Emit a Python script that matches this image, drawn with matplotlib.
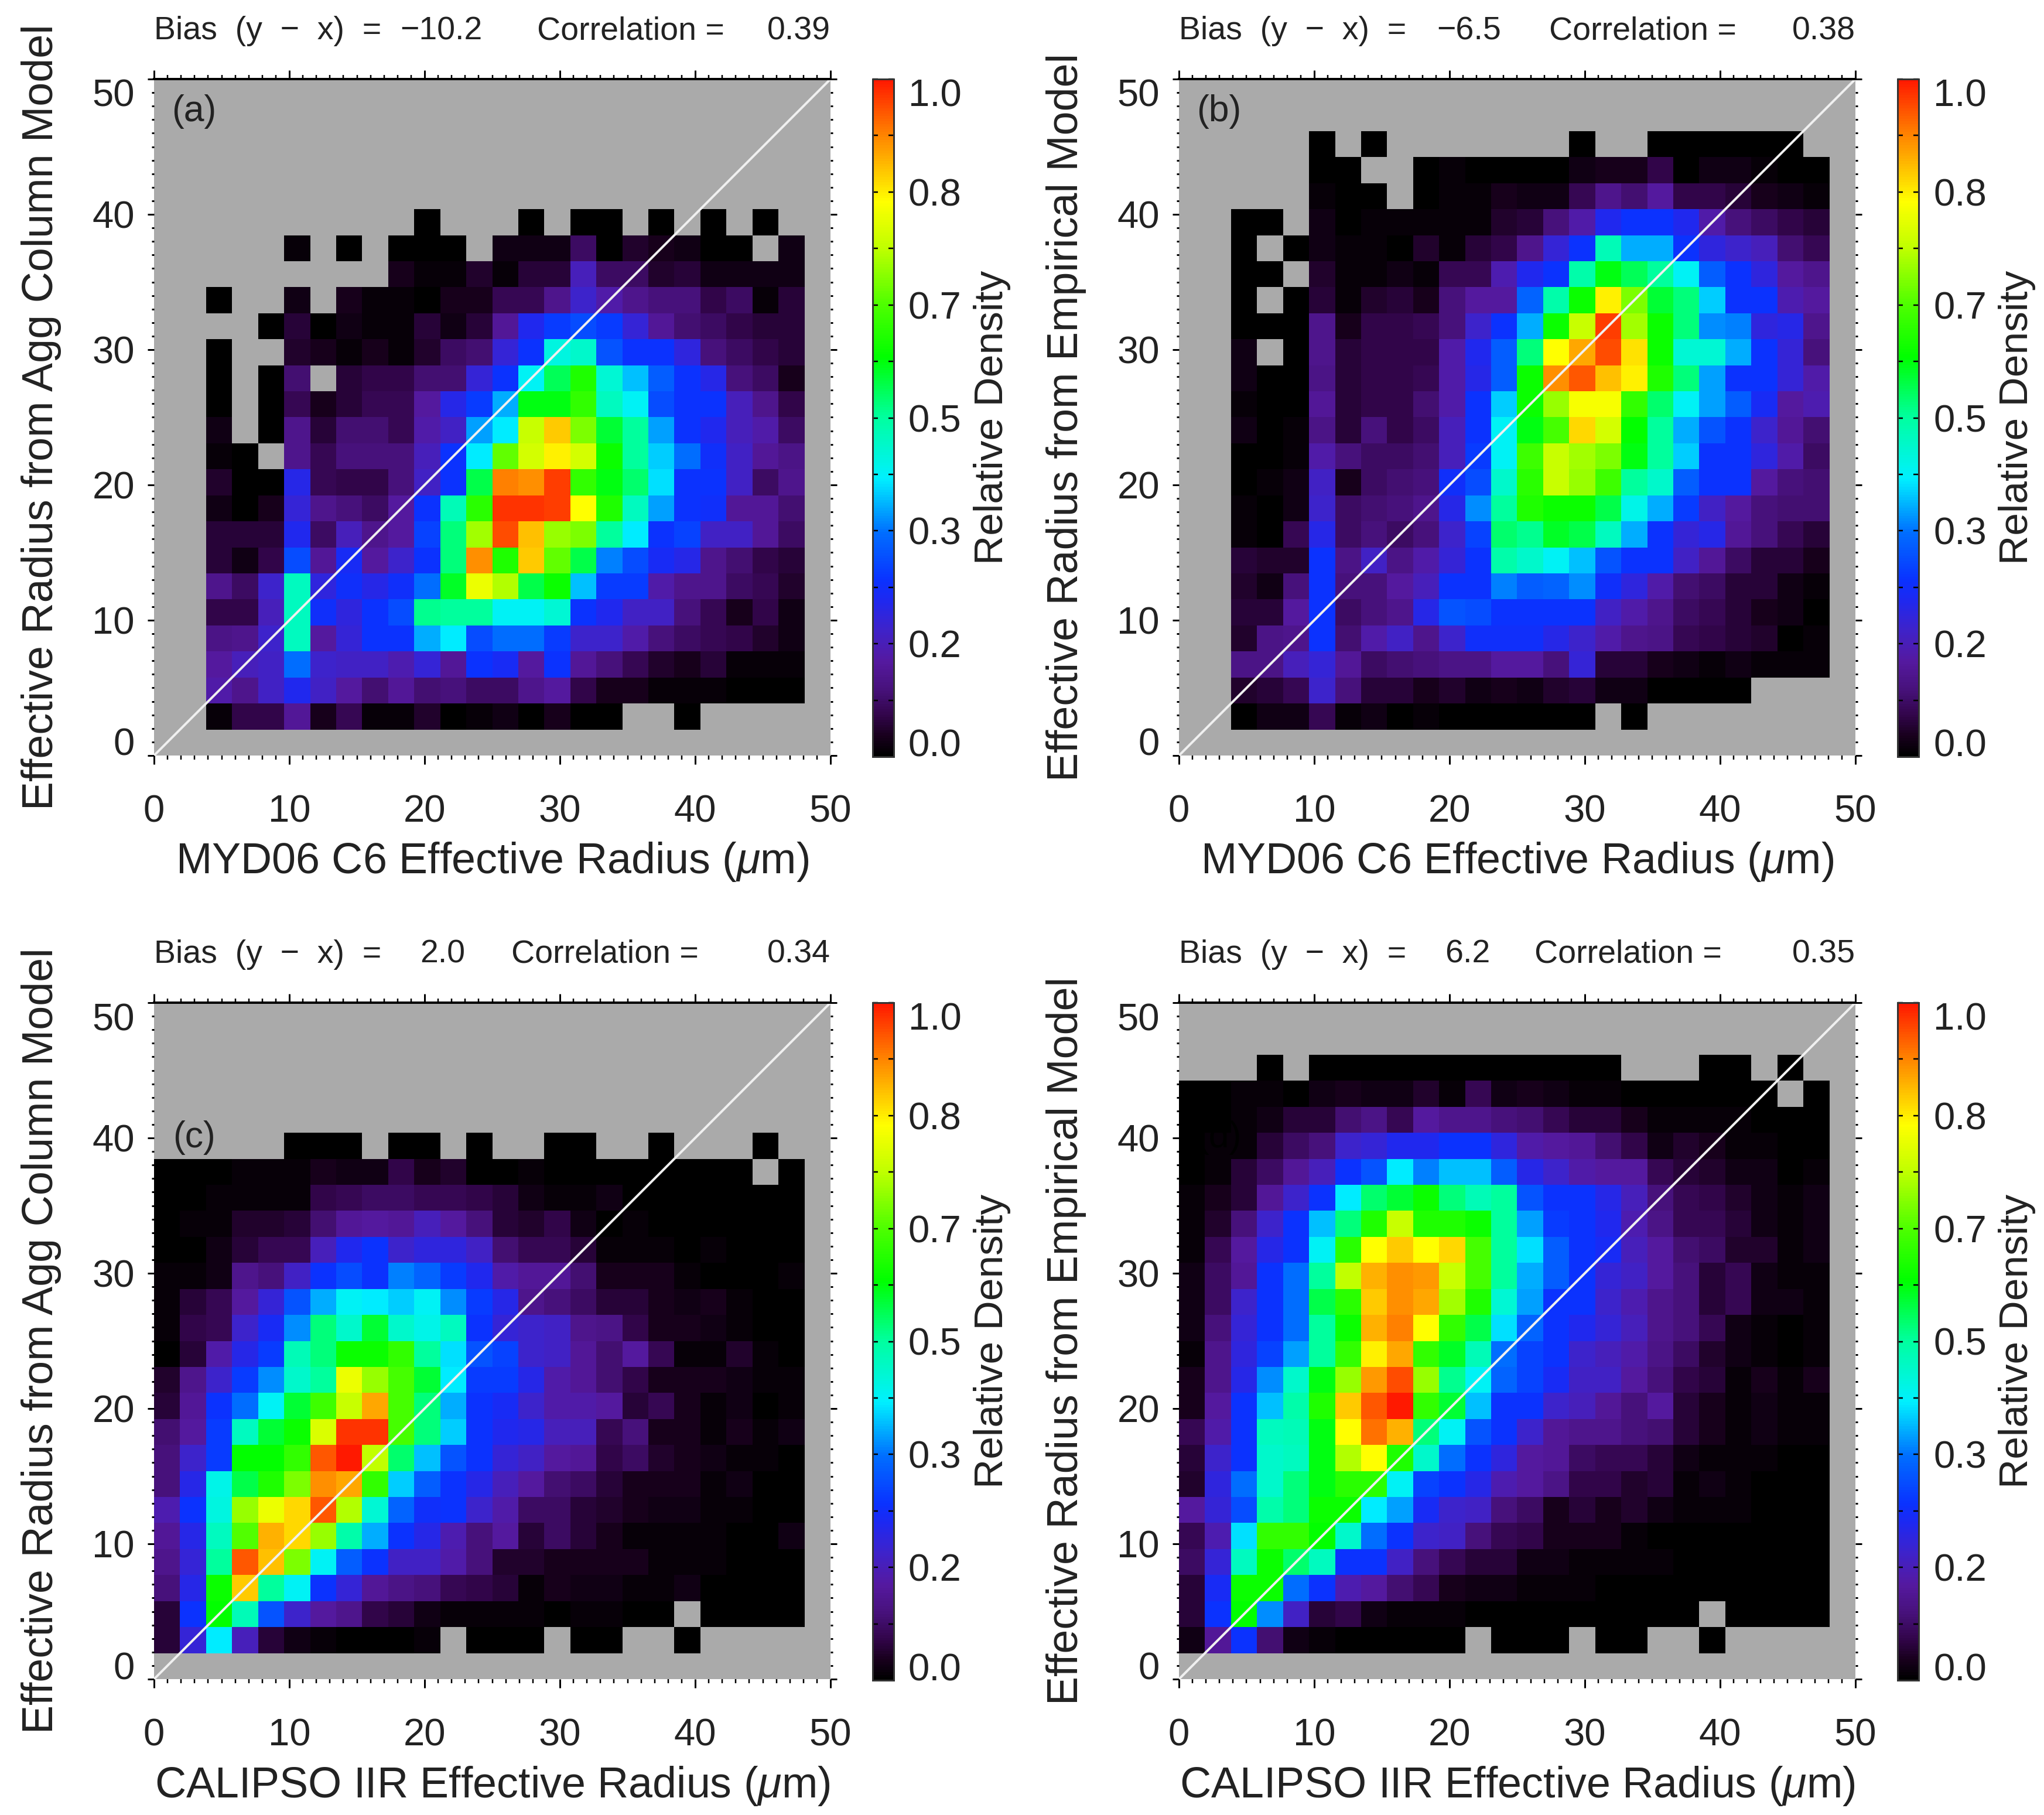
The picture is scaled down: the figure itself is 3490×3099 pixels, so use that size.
import numpy as np
import matplotlib
matplotlib.use('Agg')
import matplotlib.pyplot as plt
from matplotlib.colors import LinearSegmentedColormap

n = np.nan
W = 3491
H = 3099
plt.rcParams['font.family'] = ['Liberation Sans', 'DejaVu Sans']
plt.rcParams['mathtext.fontset'] = 'custom'
plt.rcParams['mathtext.it'] = 'Liberation Sans:italic'
plt.rcParams['mathtext.rm'] = 'Liberation Sans'

# densities in percent, rows from the top one down, columns from x=0
top_a = 20
vals_a = [
    [n,n,n,n,n,n,n,n,n,n,0,n,n,n,0,n,0,0,n,0,n,0,n,0,n],
    [n,n,n,n,n,1,n,0,n,0,0,0,n,2,2,2,8,0,4,3,2,0,0,n,2],
    [n,n,n,n,n,n,n,n,n,3,1,1,4,1,5,5,17,8,8,4,5,2,2,2,2],
    [n,n,0,n,n,2,n,3,1,1,0,3,3,7,7,12,19,15,12,10,10,6,8,1,5],
    [n,n,n,n,0,5,0,2,1,1,5,2,5,13,23,27,29,27,20,13,9,8,6,5,5],
    [n,n,0,n,n,4,3,1,3,1,4,8,9,20,26,44,46,30,26,26,21,10,8,6,5],
    [n,n,0,n,0,9,n,5,6,6,9,9,20,26,42,54,62,45,38,31,26,22,10,8,3],
    [n,n,0,n,0,7,3,5,7,7,14,22,27,37,58,58,64,47,42,29,26,26,17,12,6],
    [n,n,2,n,0,12,5,9,9,7,15,18,36,41,76,86,70,56,50,36,26,23,17,15,8],
    [n,n,1,0,n,12,7,10,10,10,17,26,41,68,77,83,77,60,50,39,33,25,18,13,11],
    [n,n,4,0,0,22,7,6,6,10,18,26,55,92,91,97,64,58,53,40,26,26,18,8,12],
    [n,n,2,0,3,20,12,10,8,14,26,48,63,98,98,97,82,62,47,36,26,25,13,13,9],
    [n,n,5,5,5,23,8,17,12,14,28,52,73,96,87,72,70,50,41,26,28,18,18,13,8],
    [n,n,5,2,6,29,13,24,14,19,26,52,91,62,86,68,55,34,29,24,22,12,9,6,5],
    [n,n,12,8,19,47,21,25,22,25,33,57,80,74,55,60,38,27,27,15,12,12,8,7,4],
    [n,n,6,6,17,47,25,21,26,29,51,50,50,42,42,45,26,23,18,18,10,7,3,6,2],
    [n,n,11,12,19,47,14,20,26,26,37,41,29,33,33,27,19,19,15,10,8,7,6,4,2],
    [n,n,14,17,18,33,19,18,18,16,20,13,26,24,14,26,13,10,7,4,3,5,1,1,1],
    [n,n,15,12,18,23,18,14,9,13,9,10,8,8,12,14,6,3,3,1,1,1,0,0,0],
    [n,n,1,6,6,13,3,7,1,1,4,0,1,2,0,3,0,0,n,n,0,n,n,n,n],
]
top_b = 23
vals_b = [
    [n,n,n,n,n,0,n,0,n,n,n,n,n,n,n,0,n,n,0,0,0,0,0,0,n],
    [n,n,n,n,n,0,0,n,n,0,1,0,0,0,0,2,3,3,6,0,2,2,1,0,0],
    [n,n,n,n,n,1,0,0,n,0,1,1,3,2,2,7,12,9,14,6,6,5,3,2,1],
    [n,n,0,0,n,2,0,1,1,1,1,1,4,5,10,15,23,26,26,23,15,10,8,6,5],
    [n,n,0,n,0,2,1,1,0,4,1,5,6,12,20,26,48,37,37,26,21,19,17,9,7],
    [n,n,0,0,n,4,1,1,2,1,7,7,16,23,26,49,58,54,50,42,31,26,21,14,12],
    [n,n,0,n,0,5,1,4,5,3,10,14,14,32,49,60,83,70,56,52,39,26,26,16,14],
    [n,n,0,0,0,12,3,6,6,7,10,19,26,37,60,76,97,73,60,52,35,34,21,22,12],
    [n,n,2,n,0,12,5,6,6,6,15,23,31,52,82,89,96,84,60,45,45,37,26,20,10],
    [n,n,2,0,0,11,5,6,6,7,15,22,31,60,91,95,87,83,62,52,36,26,26,20,15],
    [n,n,1,0,0,13,5,6,6,9,15,26,39,60,72,81,81,64,53,42,36,31,24,14,16],
    [n,n,2,0,1,11,5,10,6,8,17,26,42,58,66,85,77,59,50,37,30,26,19,13,9],
    [n,n,0,0,1,15,10,8,8,9,17,27,42,65,76,73,70,58,50,39,26,26,21,15,8],
    [n,n,0,1,2,18,3,8,9,10,25,29,46,63,76,72,65,50,46,31,26,26,14,10,9],
    [n,n,1,0,2,19,8,9,10,12,22,35,50,62,60,60,55,43,37,27,18,14,10,9,9],
    [n,n,1,0,7,22,8,10,8,10,19,28,53,51,57,55,47,37,26,20,22,13,10,7,5],
    [n,n,5,4,4,26,11,18,11,15,20,26,49,46,42,38,30,26,26,18,13,8,5,5,3],
    [n,n,4,2,10,26,10,10,14,17,26,26,34,31,32,35,25,21,15,9,8,5,5,2,1],
    [n,n,5,5,14,26,8,10,12,22,30,29,26,26,26,26,18,15,12,8,7,5,3,2,0],
    [n,n,4,11,12,26,9,15,18,12,19,25,25,25,22,19,15,12,11,7,6,5,4,0,1],
    [n,n,11,11,17,20,13,8,9,10,11,11,14,14,10,20,5,5,3,2,1,2,1,1,1],
    [n,n,4,5,7,19,10,5,5,3,4,2,3,2,4,5,2,2,0,0,0,0,n,n,n],
    [n,n,0,2,2,7,1,2,0,1,0,0,0,0,0,0,n,0,n,n,n,n,n,n,n],
]
top_c = 20
vals_c = [
    [n,n,n,n,n,0,0,0,n,0,0,n,0,n,n,0,0,n,n,0,n,n,n,0,n],
    [0,0,0,1,1,1,3,2,2,6,3,4,0,0,1,0,0,0,0,0,0,0,0,n,0],
    [0,0,1,1,1,1,6,7,8,8,7,7,6,5,2,1,1,2,0,0,0,0,0,0,0],
    [0,1,1,4,4,5,9,13,14,13,17,14,10,5,4,6,2,0,1,0,0,0,0,0,0],
    [0,0,2,5,7,7,17,23,26,19,21,21,18,9,7,7,5,1,1,1,0,1,0,0,0],
    [1,1,2,12,10,18,26,29,26,34,32,27,23,15,13,13,9,3,3,3,1,0,0,0,1],
    [1,5,7,14,20,30,37,42,41,39,42,35,27,22,12,10,8,5,5,3,2,3,1,0,0],
    [1,6,7,19,24,35,52,46,56,46,43,47,26,20,19,18,12,11,6,3,3,2,1,0,0],
    [0,5,15,22,27,48,52,60,60,64,50,40,30,28,19,18,13,9,14,7,1,1,4,1,0],
    [4,12,19,27,35,46,50,80,72,66,56,41,27,27,22,15,13,9,6,3,3,3,2,1,1],
    [5,13,26,33,42,56,65,76,89,66,52,37,26,24,19,15,15,14,5,7,3,1,2,0,1],
    [9,14,27,47,56,60,78,98,98,66,52,39,26,23,22,17,17,7,10,3,3,1,3,1,2],
    [10,19,27,59,59,64,95,100,75,53,38,30,26,20,18,14,13,6,8,4,3,2,1,1,0],
    [10,22,43,55,62,70,91,89,64,39,31,26,22,17,14,9,8,5,3,3,3,1,2,0,0],
    [16,26,44,72,80,85,95,74,45,32,25,26,19,15,8,8,5,4,3,2,2,1,1,0,0],
    [13,22,47,67,88,85,72,49,37,26,22,16,10,14,5,8,5,3,1,1,1,1,0,0,2],
    [12,20,50,95,87,70,42,31,26,18,18,15,10,4,4,3,3,3,3,1,1,1,0,0,0],
    [10,22,60,86,50,42,26,20,13,11,10,7,6,5,1,3,2,2,1,1,2,0,0,0,0],
    [5,26,59,48,30,19,14,12,6,5,2,1,1,1,1,0,1,1,0,0,n,0,0,0,0],
    [5,20,41,17,5,2,1,0,0,0,1,n,0,0,0,n,0,0,n,n,0,n,n,n,n],
]
top_d = 23
vals_d = [
    [n,n,n,0,n,0,0,0,0,0,0,0,0,0,0,0,0,n,n,n,0,0,n,0,n],
    [0,0,1,1,0,2,3,2,2,4,1,7,2,3,2,1,1,0,0,0,0,0,0,n,0],
    [0,0,1,2,5,5,9,11,7,14,12,12,10,9,7,5,5,3,1,1,1,1,0,0,0],
    [0,1,1,5,8,10,19,20,23,23,26,26,21,15,14,13,9,6,2,4,3,1,1,0,0],
    [0,1,5,8,13,17,26,30,41,34,38,38,31,22,19,15,14,14,7,5,4,2,2,0,1],
    [1,3,5,13,19,26,41,53,56,60,52,48,50,30,26,26,22,17,10,7,6,4,2,1,2],
    [1,4,10,19,26,38,52,62,76,62,62,60,50,36,27,26,23,16,11,7,7,5,2,1,2],
    [1,7,14,22,26,42,63,82,86,82,85,66,50,40,31,26,24,17,14,9,8,4,4,1,2],
    [2,8,13,26,33,50,75,88,91,90,76,66,50,37,31,26,20,18,14,10,5,7,2,1,1],
    [2,8,19,26,33,55,63,86,91,89,73,62,45,36,26,26,19,16,12,10,5,7,2,2,1],
    [2,10,20,26,33,50,60,88,92,82,64,55,40,32,26,23,20,17,12,10,7,2,1,0,1],
    [1,12,21,28,36,50,64,83,89,64,57,48,33,28,26,19,17,15,11,8,4,2,1,0,1],
    [3,12,22,35,46,58,72,90,96,72,51,42,32,28,24,18,18,14,10,6,5,1,3,1,3],
    [3,14,26,38,49,62,86,95,100,64,56,38,26,26,19,17,13,10,14,5,3,1,2,1,1],
    [7,15,26,47,48,58,82,93,88,52,42,30,26,19,13,12,12,10,9,5,3,1,2,1,1],
    [5,19,26,46,47,58,74,82,62,46,33,26,21,14,13,8,7,7,5,2,1,1,1,0,0],
    [4,21,33,46,52,58,63,63,42,28,26,22,16,14,11,6,6,4,5,1,2,1,0,0,0],
    [14,20,29,49,52,60,60,41,36,24,19,18,10,8,3,5,3,4,2,1,1,1,0,0,0],
    [7,16,40,64,64,59,46,33,26,19,18,10,7,6,3,3,3,1,0,0,0,0,0,0,0],
    [8,20,47,60,53,47,26,26,18,10,7,5,5,2,2,1,1,1,1,0,0,0,0,0,0],
    [5,24,60,60,33,26,16,14,9,7,3,2,2,1,1,1,0,0,0,0,0,0,0,0,0],
    [5,26,59,35,18,5,6,2,1,1,1,0,0,0,0,0,0,0,0,0,n,0,0,0,0],
    [2,13,26,9,2,1,0,0,0,0,0,n,0,0,0,n,0,0,n,n,0,n,n,n,n],
]

xlabels = ['MYD06 C6 Effective Radius ($\\mu$m)', 'MYD06 C6 Effective Radius ($\\mu$m)',
           'CALIPSO IIR Effective Radius ($\\mu$m)', 'CALIPSO IIR Effective Radius ($\\mu$m)']
ylabels = ['Effective Radius from Agg Column Model', 'Effective Radius from Empirical Model',
           'Effective Radius from Agg Column Model', 'Effective Radius from Empirical Model']
bias = ['\u221210.2', '\u22126.5', '2.0', '6.2']
corr = ['0.39', '0.38', '0.34', '0.35']
tags = ['(a)', '(b)', '(c)', '(d)']
tag_y = [0.952, 0.952, 0.80, 0.80]
ticks = [0, 10, 20, 30, 40, 50]
cb_labels = ['0.0', '0.2', '0.3', '0.5', '0.7', '0.8', '1.0']

# pixel boxes of the panels and where the header pieces start
lefts = [263, 2013, 263, 2013]
tops = [135, 135, 1712, 1712]
bias_x = [683, 2453, 717, 2467]
corr_x = [917, 2645, 873, 2620]
SIDE = 1155
BAR = 1157

cmap = LinearSegmentedColormap.from_list('idl', [
    (0.0, (0, 0, 0)), (0.03, (25/255, 0, 30/255)), (0.06, (50/255, 5/255, 75/255)),
    (0.1, (72/255, 18/255, 125/255)), (0.14, (85/255, 25/255, 160/255)),
    (0.19, (60/255, 35/255, 205/255)), (0.23, (30/255, 40/255, 240/255)),
    (0.26, (10/255, 50/255, 1)), (0.33, (0, 110/255, 1)),
    (0.41, (0, 240/255, 1)), (0.5, (0, 1, 160/255)), (0.59, (0, 1, 0)),
    (0.67, (80/255, 1, 0)), (0.75, (190/255, 1, 0)), (0.82, (1, 1, 0)),
    (0.92, (1, 130/255, 0)), (1.0, (1, 25/255, 0))])
PX = 0.72
INK = '#222222'


def box(x, y, w, h):
    return [x/W, 1-(y+h)/H, w/W, h/H]


def grid(rows, top):
    g = np.full((26, 26), np.nan)
    for i, row in enumerate(rows):
        g[top-i, :len(row)] = np.array(row, dtype=float)/100
    return g


fig = plt.figure(figsize=(W/100, H/100), dpi=100, facecolor='white')
edges = np.linspace(0, 50, 27)

for k, rows in enumerate([vals_a, vals_b, vals_c, vals_d]):
    top = [top_a, top_b, top_c, top_d][k]
    x0 = lefts[k]
    y0 = tops[k]
    ax = fig.add_axes(box(x0, y0, SIDE, SIDE))
    ax.set_facecolor('#AAAAAA')
    mesh = ax.pcolormesh(edges, edges, grid(rows, top), cmap=cmap, vmin=0, vmax=1)
    ax.plot([0, 50], [0, 50], color='#F0F0F0', lw=4*PX)
    ax.set_xlim(0, 50)
    ax.set_ylim(0, 50)
    ax.set_xticks(ticks)
    ax.set_yticks(ticks)
    ax.set_xticks(np.arange(0, 51), minor=True)
    ax.set_yticks(np.arange(0, 51), minor=True)
    ax.tick_params(axis='x', which='major', top=True, bottom=True, direction='out',
                   length=15*PX, width=3*PX, pad=37, labelsize=47, labelcolor=INK)
    ax.tick_params(axis='x', which='minor', top=True, bottom=True, direction='out',
                   length=7*PX, width=2.5*PX)
    ax.tick_params(axis='y', which='major', left=True, right=True, direction='out',
                   length=11*PX, width=3*PX, pad=16, labelsize=47, labelcolor=INK)
    ax.tick_params(axis='y', which='minor', left=True, right=True, direction='out',
                   length=4*PX, width=3*PX)
    labs = ax.get_yticklabels()
    labs[0].set_va('baseline')
    labs[-1].set_va('top')
    for side in ['left', 'right', 'bottom']:
        ax.spines[side].set_visible(False)
    ax.spines['top'].set_linewidth(4*PX)

    ax.text(0.059, tag_y[k], tags[k], transform=ax.transAxes, fontsize=45,
            color='black' if k == 3 else INK, ha='center', va='center')
    fig.text((x0+SIDE/2)/W, 1-(y0+1337)/H, xlabels[k], fontsize=53, color=INK,
             ha='center', va='center')
    fig.text((x0-192)/W, 1-(y0+SIDE/2)/H, ylabels[k], fontsize=53, color=INK,
             rotation=90, ha='center', va='center')

    ymid = 1-(y0-82)/H
    fig.text(x0/W, ymid, 'Bias  (y  \u2212  x)  =', fontsize=40, color=INK, va='center')
    fig.text(bias_x[k]/W, ymid, bias[k], fontsize=40, color=INK, va='center')
    fig.text(corr_x[k]/W, ymid, 'Correlation =', fontsize=40, color=INK, va='center')
    fig.text((x0+SIDE)/W, ymid, corr[k], fontsize=40, color=INK, ha='right', va='center')

    cax = fig.add_axes(box(x0+1227, y0, 36, BAR))
    cb = fig.colorbar(mesh, cax=cax)
    cb.outline.set_linewidth(3*PX)
    cb.outline.set_edgecolor('#333333')
    cax.set_yticks(np.arange(13)/12)
    cax.set_yticklabels([cb_labels[j//2] if j % 2 == 0 else '' for j in range(13)])
    cax.tick_params(axis='y', which='both', left=True, right=True, direction='in',
                    length=9*PX, width=2.5*PX, pad=18, labelsize=47, labelcolor=INK)
    labs = cax.get_yticklabels()
    labs[0].set_va('baseline')
    labs[-1].set_va('top')
    fig.text((x0+1431)/W, 1-(y0+578)/H, 'Relative Density', fontsize=50, color=INK,
             rotation=90, ha='center', va='center')

fig.savefig('out.png', dpi=100)
